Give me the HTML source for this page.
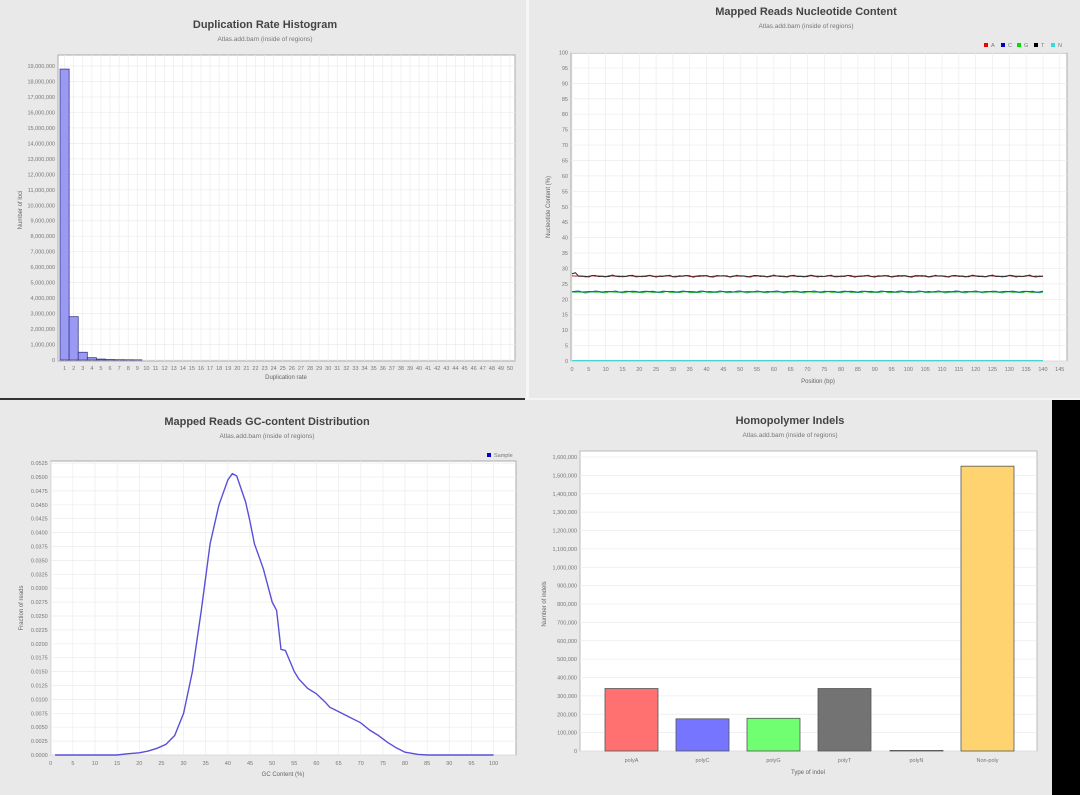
<!DOCTYPE html>
<html><head><meta charset="utf-8"><style>
html,body{margin:0;padding:0;width:1080px;height:795px;overflow:hidden;background:#e9e9e9}
svg{display:block}
text{font-family:"Liberation Sans",sans-serif;fill:#555}
.t{font-size:11px;font-weight:bold;fill:#444}
.s{font-size:6.5px;fill:#777}
.k{font-size:5.5px;fill:#777}
.l{font-size:6px;fill:#666}
</style></head><body>
<svg id="c" width="1080" height="795" xmlns="http://www.w3.org/2000/svg">
<rect x="0" y="0" width="1080" height="795" fill="#e9e9e9"/>
<rect x="526" y="0" width="3" height="399" fill="#f6f6f6"/>
<rect x="0" y="398" width="527" height="2" fill="#333"/>
<rect x="1052" y="400" width="28" height="395" fill="#000"/>
<rect x="525" y="398" width="555" height="2" fill="#f4f4f4"/>
<!-- titles -->
<text class="t" x="265" y="28" text-anchor="middle">Duplication Rate Histogram</text>
<text class="s" x="265" y="41" text-anchor="middle">Atlas.add.bam (inside of regions)</text>
<text class="t" x="806" y="15" text-anchor="middle">Mapped Reads Nucleotide Content</text>
<text class="s" x="806" y="28" text-anchor="middle">Atlas.add.bam (inside of regions)</text>
<text class="t" x="267" y="425" text-anchor="middle">Mapped Reads GC-content Distribution</text>
<text class="s" x="267" y="438" text-anchor="middle">Atlas.add.bam (inside of regions)</text>
<text class="t" x="790" y="424" text-anchor="middle">Homopolymer Indels</text>
<text class="s" x="790" y="437" text-anchor="middle">Atlas.add.bam (inside of regions)</text>
<!-- axis labels -->
<text class="l" x="286" y="379" text-anchor="middle">Duplication rate</text>
<text class="l" transform="translate(22,210) rotate(-90)" text-anchor="middle">Number of loci</text>
<text class="l" x="818" y="383" text-anchor="middle">Position (bp)</text>
<text class="l" transform="translate(550,207) rotate(-90)" text-anchor="middle">Nucleotide Content (%)</text>
<text class="l" x="283" y="776" text-anchor="middle">GC Content (%)</text>
<text class="l" transform="translate(23,608) rotate(-90)" text-anchor="middle">Fraction of reads</text>
<text class="l" x="808" y="774" text-anchor="middle">Type of indel</text>
<text class="l" transform="translate(546,604) rotate(-90)" text-anchor="middle">Number of indels</text>
<!-- legends -->
<rect x="984" y="43" width="4" height="4" fill="#e00"/><text class="k" x="991" y="47">A</text>
<rect x="1001" y="43" width="4" height="4" fill="#00c"/><text class="k" x="1008" y="47">C</text>
<rect x="1017" y="43" width="4" height="4" fill="#0d0"/><text class="k" x="1024" y="47">G</text>
<rect x="1034" y="43" width="4" height="4" fill="#000"/><text class="k" x="1041" y="47">T</text>
<rect x="1051" y="43" width="4" height="4" fill="#3dd"/><text class="k" x="1058" y="47">N</text>
<rect x="487" y="453" width="4" height="4" fill="#00c"/><text class="k" x="494" y="457">Sample</text>
<g id="dyn"></g>
</svg>
<script>
var NS="http://www.w3.org/2000/svg",g=document.getElementById("dyn");
function el(n,a,t){var e=document.createElementNS(NS,n);for(var k in a)e.setAttribute(k,a[k]);if(t!=null)e.textContent=t;g.appendChild(e);return e;}
function fmt(n){return n.toString().replace(/\B(?=(\d{3})+(?!\d))/g,",");}
// TL
var L=58,R=515,T=55,B=361;
el("rect",{x:L,y:T,width:R-L,height:B-T,fill:"#fff",stroke:"#aaa","stroke-width":1});
function ty(v){return 360-v*(294/19e6);}
function tx(v){return 64.6+(v-1)*9.09;}
for(var i=1;i<=50;i++){var x=tx(i);el("line",{x1:x,y1:T,x2:x,y2:B,stroke:"#ececec","stroke-width":.7});el("text",{class:"k",x:x,y:370,"text-anchor":"middle"},i);}
for(var v=0;v<=19;v++){var y=ty(v*1e6);el("line",{x1:L,y1:y,x2:R,y2:y,stroke:"#ececec","stroke-width":.7});el("text",{class:"k",x:L-3,y:y+2,"text-anchor":"end"},fmt(v*1e6));}
[[1,18.8e6],[2,2.8e6],[3,5e5],[4,1.5e5],[5,6e4],[6,3e4],[7,2e4],[8,1.5e4],[9,1e4]].forEach(function(d){var x=tx(d[0])-4.55,y=ty(d[1]);el("rect",{x:x,y:y,width:9.09,height:360-y,fill:"#9a9af5",stroke:"#3a3a8a","stroke-width":.8});});
// TR
L=571;R=1067;T=53;B=361;
el("rect",{x:L,y:T,width:R-L,height:B-T,fill:"#fff",stroke:"#aaa","stroke-width":1});
function ny(v){return 361-v*3.085;} function nx(v){return 572+v*3.364;}
for(var v=0;v<=145;v+=5){var x=nx(v);el("line",{x1:x,y1:T,x2:x,y2:B,stroke:"#ececec","stroke-width":.7});el("text",{class:"k",x:x,y:371,"text-anchor":"middle"},v);}
for(var v=0;v<=100;v+=5){var y=ny(v);el("line",{x1:L,y1:y,x2:R,y2:y,stroke:"#ececec","stroke-width":.7});el("text",{class:"k",x:L-3,y:y+2,"text-anchor":"end"},v);}
function wig(base,amp,col,seed){var p="";for(var i=0;i<=140;i++){var v=base+amp*Math.sin(i*1.7+seed)*Math.cos(i*.53+seed);if(i<2&&seed==3)v+=0.8;p+=(i?"L":"M")+nx(i).toFixed(1)+","+ny(v).toFixed(1);}el("path",{d:p,fill:"none",stroke:col,"stroke-width":1.1});}
wig(22.3,.25,"#2c2",1);wig(22.5,.2,"#2255cc",2);wig(0.1,0,"#3cc",0);
wig(27.5,.25,"#d33",4);wig(27.5,.35,"#333",3);
// BL
L=50.7;R=516;T=461;B=755;
el("rect",{x:L,y:T,width:R-L,height:B-T,fill:"#fff",stroke:"#aaa","stroke-width":1});
function gy(v){return 755-v/0.0025*13.9;} function gx(v){return 50.7+v*4.429;}
for(var v=0;v<=100;v+=5){var x=gx(v);el("line",{x1:x,y1:T,x2:x,y2:B,stroke:"#ececec","stroke-width":.7});el("text",{class:"k",x:x,y:765,"text-anchor":"middle"},v);}
for(var i=0;i<=21;i++){var v=i*0.0025,y=gy(v);el("line",{x1:L,y1:y,x2:R,y2:y,stroke:"#ececec","stroke-width":.7});el("text",{class:"k",x:L-3,y:y+2,"text-anchor":"end"},v.toFixed(4));}
var gc=[[1,0],[15,0],[17,.0002],[20,.0004],[22,.0007],[24,.0012],[26,.0019],[28,.0035],[30,.0075],[32,.015],[34,.026],[35,.032],[36,.038],[38,.045],[40,.0495],[41,.0506],[42,.0502],[44,.0455],[45,.042],[46,.038],[48,.0335],[50,.0275],[51,.026],[52,.019],[53,.0188],[55,.015],[56,.0137],[58,.012],[60,.011],[62,.0095],[63,.0086],[65,.0078],[67,.007],[70,.0058],[72,.0045],[74,.0035],[76,.0023],[78,.0013],[80,.0005],[83,.0001],[85,0],[100,0]];
el("path",{d:gc.map(function(d,i){return (i?"L":"M")+gx(d[0]).toFixed(1)+","+gy(d[1]).toFixed(1);}).join(""),fill:"none",stroke:"#5a4fd8","stroke-width":1.4});
// BR
L=580;R=1037;T=451;B=751;
el("rect",{x:L,y:T,width:R-L,height:B-T,fill:"#fff",stroke:"#bbb","stroke-width":1});
function hy(v){return 751-v/1e5*18.375;}
for(var v=0;v<=16;v++){var y=hy(v*1e5);el("line",{x1:L,y1:y,x2:R,y2:y,stroke:"#ececec","stroke-width":.7});el("text",{class:"k",x:L-3,y:y+2,"text-anchor":"end"},fmt(v*1e5));}
[["polyA",605,340000,"#ff7070"],["polyC",676,175000,"#7575ff"],["polyG",747,178000,"#70ff70"],["polyT",818,340000,"#737373"],["polyN",890,3000,"#999"],["Non-poly",961,1550000,"#ffd470"]].forEach(function(d){var y=hy(d[2]);el("rect",{x:d[1],y:y,width:53,height:751-y,fill:d[3],stroke:"#555","stroke-width":.8});el("text",{class:"k",x:d[1]+26.5,y:762,"text-anchor":"middle"},d[0]);});
</script>
</body></html>
